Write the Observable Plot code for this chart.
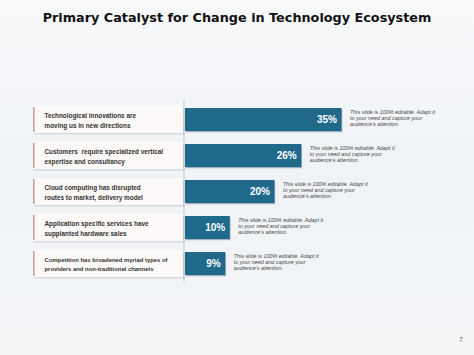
<!DOCTYPE html>
<html>
<head>
<meta charset="utf-8">
<script src="https://cdn.jsdelivr.net/npm/d3@7"></script>
<script src="https://cdn.jsdelivr.net/npm/@observablehq/plot@0.6"></script>
<style>
  html, body { margin: 0; padding: 0; }
  body {
    width: 474px; height: 355px; overflow: hidden; position: relative;
    background: linear-gradient(180deg, #f8f9fb 0%, #f0f3f6 45%, #f3f5f7 100%);
    font-family: "Liberation Sans", Arial, sans-serif;
  }
  #title {
    height: 34px; line-height: 35px; text-align: center;
    font-family: "DejaVu Sans", Verdana, sans-serif; font-weight: bold;
    font-size: 12.8px; color: #111;
  }
  #page { position: absolute; left: 459px; top: 336px; font-size: 7px; color: #666; }
</style>
</head>
<body>
<div id="title">Primary Catalyst for Change in Technology Ecosystem</div>
<div id="chart"></div>
<div id="page">7</div>
<script>
const labels = [
  "Technological innovations are\nmoving us in new directions",
  "Customers  require specialized vertical\nexpertise and consultancy",
  "Cloud computing has disrupted\nroutes to market, delivery model",
  "Application specific services have\nsupplanted hardware sales",
  "Competition has broadened myriad types of\nproviders and non-traditional channels"
];
const values = [35, 26, 20, 10, 9];
const notes = [
  "This slide is 100% editable. Adapt it\nto your need and capture your\naudience\u2019s attention.",
  "This slide is 100% editable. Adapt it\nto your need and capture your\naudience\u2019s attention.",
  "This slide is 100% editable. Adapt it\nto your need and capture your\naudience\u2019s attention.",
  "This slide is 100% editable. Adapt it\nto your need and capture your\naudience\u2019s attention.",
  "This slide is 100% editable. Adapt it\nto your need and capture your\naudience\u2019s attention."
];

const rows = labels.map((label, i) => ({label, value: values[i], note: notes[i]}));

const W = 474, H = 321;
const chart = Plot.plot({
  width: W, height: H,
  marginLeft: 0, marginRight: 0, marginTop: 0, marginBottom: 0,
  style: {background: "transparent", fontFamily: "Liberation Sans, Arial, sans-serif"},
  x: {domain: [0, 35], range: [185, 341.5], axis: null},
  y: {domain: labels, range: [73, 243], paddingInner: 0.36, paddingOuter: 0, axis: null},
  marks: [
    // bracket line
    Plot.ruleX([0], {dx: -1.5, stroke: "#c5cbd0", strokeWidth: 1, insetTop: 66, insetBottom: 73}),
    // label box shadows
    Plot.cell(rows, {y: "label", fill: "#000", fillOpacity: 0.1, insetLeft: 34, insetRight: W - 184.5, insetTop: 0, insetBottom: -3.5}),
    // label boxes
    Plot.cell(rows, {y: "label", fill: "#fdf9f8", insetLeft: 33, insetRight: W - 183, insetTop: -2, insetBottom: -2}),
    // accent line
    Plot.cell(rows, {y: "label", fill: "#c9a397", insetLeft: 33, insetRight: W - 34.6, insetTop: -1, insetBottom: -1}),
    // bar shadows
    Plot.barX(rows, {y: "label", x: "value", fill: "#0e3a4f", fillOpacity: 0.35, dx: 0.8, dy: 1.2}),
    // bars
    Plot.barX(rows, {y: "label", x: "value", fill: "#1f6a8b"}),
    // value labels
    Plot.text(rows, {y: "label", x: "value", text: d => d.value + "%", dx: -5, textAnchor: "end",
      fill: "white", fontWeight: "bold", fontSize: 10}),
    // notes
    Plot.text(rows, {y: "label", x: "value", text: "note", dx: 8, dy: -2, textAnchor: "start",
      fontStyle: "italic", fontSize: 5.4, lineHeight: 1.07, fill: "#4a4a4a"}),
    // labels
    Plot.text(rows, {y: "label", text: "label", frameAnchor: "left", dx: 44, textAnchor: "start",
      fontWeight: "bold", fontSize: (d, i) => i === 4 ? 5.9 : 6.4, lineHeight: 1.45, fill: "#333"})
  ]
});
document.getElementById("chart").appendChild(chart);
</script>
</body>
</html>
